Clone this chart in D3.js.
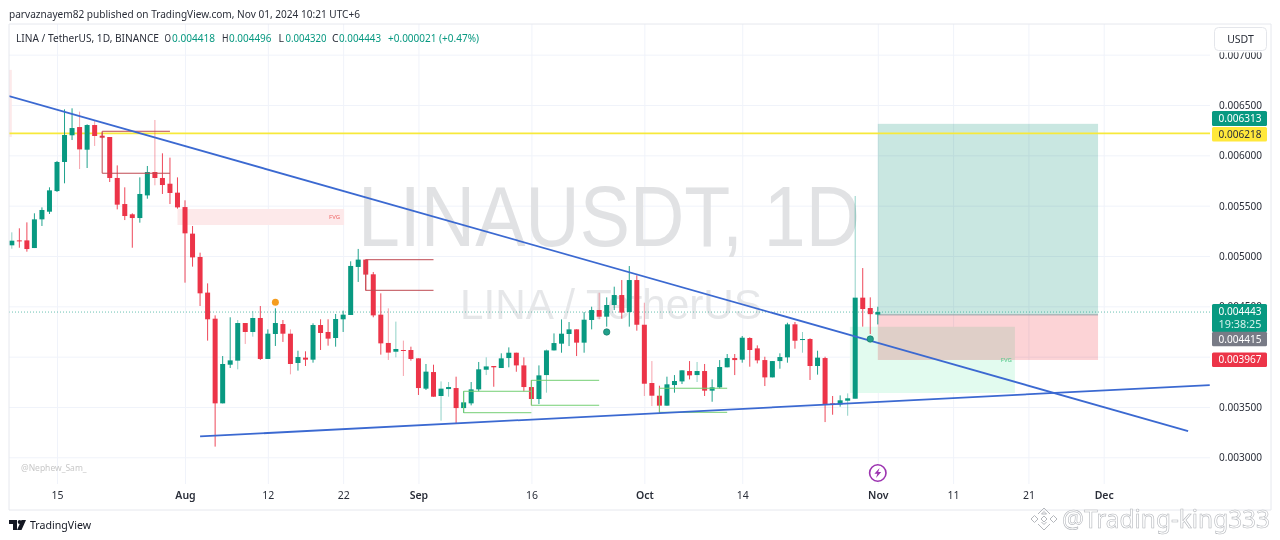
<!DOCTYPE html>
<html>
<head>
<meta charset="utf-8">
<script src="https://d3js.org/d3.v7.min.js"></script>
<style>
  html, body { margin: 0; padding: 0; background: #fff; overflow: hidden; }
  svg { display: block; filter: blur(0.3px); }
  text { font-family: "Noto Sans", sans-serif; }
</style>
</head>
<body>
<div id="graph"></div>
<script>
// daily candles, 9 Jul to 1 Nov 2024
var firstDay = "2024-07-09";
var lastDay = "2024-11-01";

var opens = [
  0.005106,0.005155,0.005155,0.005079,0.005364,0.005440,0.005645,0.005934,0.006199,0.006281,0.006056,0.006301,0.006195,0.006182,0.005775,0.005516,0.005414,0.005377,0.005602,0.005834,0.005775,0.005718,0.005629,
  0.005486,0.005222,0.004990,0.004636,0.004377,0.003536,0.003920,0.003960,0.004334,0.004245,0.004384,0.003977,0.004225,0.004324,0.004228,0.003937,0.003990,0.003970,0.004314,0.004245,0.004185,0.004371,0.004414,0.004891,0.004964,0.004818,0.004417,0.004136,0.004049,0.004066,0.004066,
  0.003983,0.003682,0.003847,0.003609,0.003678,0.003688,0.003489,0.003536,0.003675,0.003870,0.003907,0.003887,0.003986,0.004039,0.003913,0.003698,0.003579,0.003817,0.004062,0.004129,0.004225,0.004271,0.004139,0.004364,0.004463,0.004397,0.004513,0.004612,0.004443,0.004761,
  0.004317,0.003738,0.003612,0.003513,0.003718,0.003754,0.003857,0.003817,0.003857,0.003662,0.003695,0.003894,0.003986,0.003970,0.004185,0.004082,0.003966,0.003794,0.003956,0.003993,0.004321,0.004165,0.004175,0.003907,0.003986,0.003536,0.003526,0.003562,0.003582,0.004586,0.004483,
  0.004418
];
var highs = [
  0.005235,0.005275,0.005334,0.005424,0.005483,0.005682,0.005944,0.006457,0.006467,0.006434,0.006308,0.006344,0.006228,0.006182,0.005900,0.005682,0.005424,0.005781,0.005894,0.006351,0.006020,0.005977,0.005781,
  0.005553,0.005298,0.005033,0.004728,0.004410,0.004006,0.004391,0.004364,0.004334,0.004454,0.004503,0.004271,0.004480,0.004364,0.004271,0.004059,0.004053,0.004331,0.004371,0.004371,0.004424,0.004457,0.004947,0.005070,0.004964,0.004841,0.004629,0.004480,0.004348,0.004159,0.004099,
  0.003983,0.003927,0.003920,0.003754,0.003748,0.003801,0.003655,0.003748,0.003947,0.003993,0.003907,0.004033,0.004092,0.004039,0.003993,0.003768,0.003913,0.004072,0.004231,0.004370,0.004344,0.004271,0.004443,0.004496,0.004635,0.004589,0.004695,0.004761,0.004900,0.004808,
  0.004536,0.003956,0.003711,0.003801,0.003817,0.003864,0.003956,0.003947,0.003927,0.003774,0.003966,0.004026,0.004026,0.004205,0.004192,0.004112,0.003999,0.003956,0.004033,0.004337,0.004344,0.004245,0.004182,0.004059,0.003999,0.003609,0.003615,0.003635,0.005596,0.004880,0.004589,
  0.004496
];
var lows = [
  0.005072,0.005082,0.005043,0.005079,0.005298,0.005417,0.005636,0.005722,0.006152,0.005864,0.005874,0.006093,0.006169,0.005735,0.005463,0.005357,0.005082,0.005331,0.005569,0.005702,0.005616,0.005516,0.005470,
  0.004735,0.004894,0.004503,0.004159,0.003106,0.003536,0.003887,0.003874,0.004126,0.004198,0.003967,0.003977,0.004106,0.004146,0.003824,0.003861,0.003907,0.003940,0.004066,0.004109,0.004099,0.004245,0.004414,0.004742,0.004656,0.004391,0.004020,0.003967,0.003993,0.003808,0.003960,
  0.003619,0.003669,0.003602,0.003364,0.003602,0.003337,0.003443,0.003516,0.003655,0.003817,0.003701,0.003887,0.003894,0.003850,0.003655,0.003516,0.003529,0.003642,0.004062,0.004039,0.004105,0.004006,0.004039,0.004271,0.004370,0.004298,0.004463,0.004377,0.004298,0.004258,
  0.003609,0.003509,0.003443,0.003513,0.003642,0.003728,0.003774,0.003748,0.003609,0.003552,0.003682,0.003894,0.003817,0.003940,0.003900,0.003933,0.003708,0.003794,0.003880,0.003940,0.004079,0.004039,0.003768,0.003821,0.003350,0.003423,0.003503,0.003413,0.003582,0.004298,0.004225,
  0.004320
];
var closes = [
  0.005152,0.005149,0.005069,0.005364,0.005457,0.005652,0.005934,0.006202,0.006271,0.006059,0.006301,0.006192,0.006175,0.005775,0.005510,0.005397,0.005377,0.005616,0.005834,0.005775,0.005705,0.005626,0.005483,
  0.005225,0.004986,0.004629,0.004371,0.003536,0.003927,0.003963,0.004334,0.004245,0.004384,0.003977,0.004228,0.004334,0.004228,0.003927,0.003996,0.003970,0.004314,0.004235,0.004179,0.004374,0.004417,0.004901,0.004964,0.004815,0.004410,0.004132,0.004040,0.004076,0.004059,0.003977,
  0.003688,0.003851,0.003602,0.003682,0.003698,0.003489,0.003546,0.003675,0.003874,0.003903,0.003894,0.003983,0.004039,0.003913,0.003698,0.003579,0.003814,0.004062,0.004135,0.004228,0.004271,0.004139,0.004367,0.004463,0.004397,0.004513,0.004612,0.004437,0.004761,0.004317,
  0.003731,0.003612,0.003513,0.003725,0.003758,0.003864,0.003814,0.003857,0.003662,0.003695,0.003897,0.003986,0.003966,0.004188,0.004066,0.003963,0.003794,0.003956,0.003996,0.004321,0.004158,0.004175,0.003907,0.003990,0.003529,0.003526,0.003566,0.003586,0.004586,0.004473,0.004422,
  0.004443
];

// days whose wick reads much paler in the picture
var faintWicks = ["2024-07-09","2024-07-18","2024-07-20","2024-07-28","2024-08-08","2024-08-09","2024-08-10","2024-08-15","2024-08-28","2024-08-29","2024-08-30","2024-09-04","2024-09-05","2024-09-10","2024-09-18","2024-09-25","2024-10-01","2024-10-02","2024-10-08","2024-10-22","2024-10-28","2024-10-29"];

// axis ticks
var priceTicks = [0.003, 0.0035, 0.004, 0.0045, 0.005, 0.0055, 0.006, 0.0065, 0.007];
var hiddenPriceTicks = [0.004]; // sits fully behind the stop tag
var timeTickDates = ["2024-07-15","2024-08-01","2024-08-12","2024-08-22","2024-09-01","2024-09-16","2024-10-01","2024-10-14","2024-11-01","2024-11-11","2024-11-21","2024-12-01"];
var timeTickLabels = ["15","Aug","12","22","Sep","16","Oct","14","Nov","11","21","Dec"];
var monthLabels = ["Aug","Sep","Oct","Nov","Dec"];

// drawings: [from, to, price, price]
var fvgRed = ["2024-07-31T00:00", "2024-08-22T03:00", 0.005467, 0.005308];
var fvgRedEdge = ["2024-06-20", "2024-07-09T00:00", 0.006849, 0.006182];
var fvgGreen = ["2024-10-28T07:00", "2024-11-19T05:00", 0.004297, 0.003639];
var longStart = "2024-11-01";
var longEnd = "2024-11-30T06:00";
var longTarget = 0.006313;
var longEntry = 0.004415;
var longStop = 0.003967;
var lastPrice = 0.004443;
var yellowLevel = 0.006218;

var trendDown = [["2024-07-08T15:00", 0.006589], ["2024-12-12T05:00", 0.003261]];
var trendUp = [["2024-08-03", 0.003207], ["2024-12-15T02:00", 0.003718]];

// broken structure levels: [start day, end day, upper price, lower price]
var redLevels = [
  ["2024-07-21", "2024-07-30", 0.006239, 0.005822],
  ["2024-08-25", "2024-09-03", 0.004963, 0.004659]
];
var greenLevels = [
  ["2024-09-07", "2024-09-16", 0.003656, 0.003443],
  ["2024-09-16", "2024-09-25", 0.003765, 0.003517],
  ["2024-10-03", "2024-10-12", 0.003686, 0.003447]
];

// signal dots: [day, price]
var orangeDots = [["2024-08-13", 0.004540]];
var tealDots = [["2024-09-26", 0.004245], ["2024-10-31", 0.004175]];

var legendTitle = "LINA / TetherUS, 1D, BINANCE";
var legendParts = ["O", "0.004418", "H", "0.004496", "L", "0.004320", "C", "0.004443", "+0.000021 (+0.47%)"];

window.onload = start;

function start() {
    var width = 1280, height = 540;
    var left = 9, right = 1210, top = 24, bottom = 487, frameRight = 1271, frameBottom = 510;
    var upColor = "#089981", downColor = "#ec3448";

    var parseDay = function(s) { return new Date(s.length > 10 ? s + "Z" : s + "T00:00Z"); };

    var svg = d3.select("#graph").append("svg")
        .attr("width", width)
        .attr("height", height);

    svg.append("defs").append("clipPath").attr("id", "plot")
        .append("rect").attr("x", left).attr("y", top)
        .attr("width", right - left).attr("height", bottom - top);

    // scales are pinned to two known ticks on each axis
    var x = d3.scaleUtc()
        .domain([parseDay("2024-07-15"), parseDay("2024-12-01")])
        .range([57, 1103.7]);
    var y = d3.scaleLinear()
        .domain([0.003, 0.0065])
        .range([457.3, 105]);

    var days = d3.utcDay.range(parseDay(firstDay), d3.utcDay.offset(parseDay(lastDay), 1));
    var candles = days.map(function(d, i) {
        return {date: d, o: opens[i], h: highs[i], l: lows[i], c: closes[i],
                faint: faintWicks.indexOf(d.toISOString().slice(0, 10)) >= 0};
    });

    var bodyW = 5;
    var plot = svg.append("g").attr("clip-path", "url(#plot)");

    // grid
    var xGrid = d3.axisBottom(x).tickValues(timeTickDates.map(parseDay)).tickSize(484 - top).tickFormat("");
    var yGrid = d3.axisRight(y).tickValues(priceTicks).tickSize(right - left).tickFormat("");
    plot.append("g").attr("transform", "translate(0," + top + ")").call(customGrid, xGrid);
    plot.append("g").attr("transform", "translate(" + left + ",0)").call(customGrid, yGrid);

    function customGrid(g, axis) {
        g.call(axis);
        g.select(".domain").remove();
        g.selectAll(".tick line").attr("stroke", "#f0f3fa");
    }

    // watermarks
    plot.append("text").attr("x", 358).attr("y", 246)
        .attr("textLength", 502).attr("lengthAdjust", "spacingAndGlyphs")
        .style("font-family", "'Liberation Sans', sans-serif")
        .style("font-size", "86px").attr("fill", "#e1e2e4")
        .text("LINAUSDT, 1D");
    plot.append("text").attr("x", 460).attr("y", 319)
        .attr("textLength", 302).attr("lengthAdjust", "spacingAndGlyphs")
        .style("font-family", "'Liberation Sans', sans-serif")
        .style("font-size", "42px").attr("fill", "#e6e7e9")
        .text("LINA / TetherUS");
    plot.append("text").attr("x", 21).attr("y", 471)
        .style("font-size", "8.5px").attr("fill", "#c8c8c8")
        .text("@Nephew_Sam_");

    function box(from, to, p1, p2, fill) {
        return plot.append("rect")
            .attr("x", x(parseDay(from)))
            .attr("y", y(p1))
            .attr("width", x(parseDay(to)) - x(parseDay(from)))
            .attr("height", y(p2) - y(p1))
            .attr("fill", fill);
    }

    // FVG zones
    box(fvgRedEdge[0], fvgRedEdge[1], fvgRedEdge[2], fvgRedEdge[3], "#fde9ea");
    box(fvgRed[0], fvgRed[1], fvgRed[2], fvgRed[3], "#fde9ea");
    box(fvgGreen[0], fvgGreen[1], fvgGreen[2], fvgGreen[3], "#e2fbef");

    // long position
    box(longStart, longEnd, longTarget, longEntry, "#c9e7e1").style("mix-blend-mode", "multiply");
    box(longStart, longEnd, longEntry, longStop, "#fcd3d6").style("mix-blend-mode", "multiply");
    plot.append("line")
        .attr("x1", x(parseDay(longStart))).attr("x2", x(parseDay(longEnd)))
        .attr("y1", y(longEntry)).attr("y2", y(longEntry))
        .attr("stroke", "#9a9ea6").attr("stroke-width", 1);

    plot.append("text")
        .attr("x", x(parseDay(fvgRed[1])) - 4).attr("y", (y(fvgRed[2]) + y(fvgRed[3])) / 2 + 2)
        .attr("text-anchor", "end").style("font-size", "6px").attr("fill", "#ef6a6a").text("FVG");
    plot.append("text")
        .attr("x", x(parseDay(fvgGreen[1])) - 3).attr("y", y(longStop) + 2)
        .attr("text-anchor", "end").style("font-size", "6px").attr("fill", "#52c98a").text("FVG");

    // yellow level and last price
    plot.append("line").attr("x1", left).attr("x2", right)
        .attr("y1", y(yellowLevel)).attr("y2", y(yellowLevel))
        .attr("stroke", "#f7e93a").attr("stroke-width", 1.6);
    plot.append("line").attr("x1", left).attr("x2", right)
        .attr("y1", y(lastPrice)).attr("y2", y(lastPrice))
        .attr("stroke", upColor).attr("stroke-width", 1)
        .attr("stroke-dasharray", "1,2").attr("opacity", 0.6);

    // candles
    var candle = plot.selectAll(".candle").data(candles).enter().append("g").attr("class", "candle");
    candle.append("line")
        .attr("x1", function(d) { return x(d.date); })
        .attr("x2", function(d) { return x(d.date); })
        .attr("y1", function(d) { return y(d.h); })
        .attr("y2", function(d) { return y(d.l); })
        .attr("stroke", function(d) { return d.c >= d.o ? upColor : downColor; })
        .attr("stroke-opacity", function(d) { return d.faint ? 0.45 : 0.9; })
        .attr("stroke-width", 1);
    candle.append("rect")
        .attr("x", function(d) { return x(d.date) - bodyW / 2; })
        .attr("width", bodyW)
        .attr("y", function(d) { return y(Math.max(d.o, d.c)); })
        .attr("height", function(d) { return Math.max(1, Math.abs(y(d.o) - y(d.c))); })
        .attr("fill", function(d) { return d.c >= d.o ? upColor : downColor; });

    // structure levels
    function drawLevels(levels, color) {
        levels.forEach(function(l) {
            var x1 = x(parseDay(l[0])), x2 = x(parseDay(l[1]));
            var path = d3.path();
            path.moveTo(x2, y(l[2]));
            path.lineTo(x1, y(l[2]));
            path.lineTo(x1, y(l[3]));
            path.lineTo(x2, y(l[3]));
            plot.append("path").attr("d", path.toString())
                .attr("fill", "none").attr("stroke", color).attr("stroke-width", 1);
        });
    }
    drawLevels(redLevels, "#bf4a52");
    drawLevels(greenLevels, "#74cf74");

    // trend lines
    var trendLine = d3.line()
        .x(function(d) { return x(parseDay(d[0])); })
        .y(function(d) { return y(d[1]); });
    [trendDown, trendUp].forEach(function(t) {
        plot.append("path").attr("d", trendLine(t))
            .attr("fill", "none").attr("stroke", "#3b69d1").attr("stroke-width", 1.8);
    });

    // dots
    plot.selectAll(".orange").data(orangeDots).enter().append("circle")
        .attr("cx", function(d) { return x(parseDay(d[0])); })
        .attr("cy", function(d) { return y(d[1]); })
        .attr("r", 3.5).attr("fill", "#f59d1e");
    plot.selectAll(".teal").data(tealDots).enter().append("circle")
        .attr("cx", function(d) { return x(parseDay(d[0])); })
        .attr("cy", function(d) { return y(d[1]); })
        .attr("r", 3.2).attr("fill", "#22a08b").attr("stroke", "#147a69").attr("stroke-width", 0.7);

    // earnings style bolt above the time axis
    var bolt = svg.append("g").attr("transform", "translate(" + x(parseDay("2024-11-01")) + ",473)");
    bolt.append("circle").attr("r", 8.2).attr("fill", "#fff").attr("stroke", "#9c33b0").attr("stroke-width", 1.6);
    bolt.append("path").attr("d", "M1.8,-5 L-3.4,0.8 L-0.4,0.8 L-1.8,5 L3.4,-1 L0.4,-1 Z").attr("fill", "#9c33b0");

    // frame
    svg.append("path")
        .attr("d", "M" + left + "," + top + " H" + frameRight + " V" + frameBottom + " H" + left + " Z")
        .attr("fill", "none").attr("stroke", "#e6e8ee").attr("stroke-width", 1);

    // axes
    var xAxis = d3.axisBottom(x)
        .tickValues(timeTickDates.map(parseDay))
        .tickSize(0).tickPadding(0)
        .tickFormat(function(d, i) { return timeTickLabels[i]; });
    var yAxis = d3.axisRight(y)
        .tickValues(priceTicks.filter(function(p) { return hiddenPriceTicks.indexOf(p) < 0; }))
        .tickSize(0).tickPadding(9)
        .tickFormat(d3.format(".6f"));

    svg.append("g").attr("transform", "translate(0,492)").call(customAxis, xAxis)
        .selectAll(".tick text")
        .style("font-size", "10.5px")
        .style("font-weight", function(d, i) { return monthLabels.indexOf(timeTickLabels[i]) >= 0 ? 600 : 400; });
    svg.append("g").attr("transform", "translate(" + right + ",0)").call(customAxis, yAxis)
        .selectAll(".tick text")
        .attr("textLength", 43).attr("lengthAdjust", "spacingAndGlyphs");

    function customAxis(g, axis) {
        g.call(axis);
        g.select(".domain").remove();
        g.selectAll(".tick text").style("font-size", "11px").attr("fill", "#2a2e39");
    }

    // USDT button hides the top of the 0.007 tick
    svg.append("rect").attr("x", 1212).attr("y", 26).attr("width", 57).attr("height", 26.5).attr("fill", "#fff");
    svg.append("rect").attr("x", 1214.5).attr("y", 27.5).attr("width", 52).attr("height", 23).attr("rx", 4)
        .attr("fill", "#fff").attr("stroke", "#e4e6eb");
    svg.append("text").attr("x", 1240.5).attr("y", 43).attr("text-anchor", "middle")
        .style("font-size", "10.5px").attr("fill", "#2a2e39").text("USDT");

    // price tags on the right
    function priceTag(price, offset, h, fill, color, label, sub) {
        var top = y(price) + offset;
        svg.append("rect").attr("x", 1212).attr("y", top).attr("width", 55).attr("height", h)
            .attr("rx", 1.5).attr("fill", fill);
        svg.append("text").attr("x", 1218.5).attr("y", top + 11)
            .attr("textLength", 43).attr("lengthAdjust", "spacingAndGlyphs")
            .style("font-size", "11px").attr("fill", color).text(label);
        if (sub) {
            svg.append("text").attr("x", 1218.5).attr("y", top + 24)
                .attr("textLength", 43).attr("lengthAdjust", "spacingAndGlyphs")
                .style("font-size", "11px").attr("fill", "#d6f2ec").text(sub);
        }
    }
    priceTag(longTarget, -12.8, 15, upColor, "#fff", "0.006313");
    priceTag(yellowLevel, -6.4, 14.5, "#ffe83b", "#2a2e39", "0.006218");
    priceTag(lastPrice, -8, 28, upColor, "#fff", "0.004443", "19:38:25");
    priceTag(longEntry, 17, 14.5, "#787b86", "#fff", "0.004415");
    priceTag(longStop, -7.5, 14.5, "#ec3448", "#fff", "0.003967");

    // header text
    svg.append("text").attr("x", 9).attr("y", 18)
        .attr("textLength", 351).attr("lengthAdjust", "spacingAndGlyphs")
        .style("font-size", "11.2px").attr("fill", "#2a2e39")
        .text("parvaznayem82 published on TradingView.com, Nov 01, 2024 10:21 UTC+6");

    // legend pieces sit at measured spots so the OHLC columns line up
    var legendX = [164.5, 172, 222, 229, 278.5, 285.5, 332, 339, 388];
    var legendW = [6.5, 43, 6.5, 42.5, 5.5, 41, 6.5, 42, 91];
    svg.append("text").attr("x", 16).attr("y", 42)
        .attr("textLength", 143).attr("lengthAdjust", "spacingAndGlyphs")
        .style("font-size", "10.8px").attr("fill", "#2a2e39").text(legendTitle);
    legendParts.forEach(function(p, i) {
        svg.append("text").attr("x", legendX[i]).attr("y", 42)
            .attr("textLength", legendW[i]).attr("lengthAdjust", "spacingAndGlyphs")
            .style("font-size", "10.8px")
            .attr("fill", p.length === 1 ? "#2a2e39" : upColor)
            .text(p);
    });

    // TradingView mark
    svg.append("path")
        .attr("d", "M9,520 h8 v10 h-4 v-6 h-4 Z M26,520 l-4.5,10 h-4.5 l4.5,-10 Z")
        .attr("fill", "#131722");
    svg.append("circle").attr("cx", 19.6).attr("cy", 522).attr("r", 1.9).attr("fill", "#131722");
    svg.append("text").attr("x", 30).attr("y", 529)
        .attr("textLength", 61).attr("lengthAdjust", "spacingAndGlyphs")
        .style("font-size", "11.5px").attr("fill", "#131722").text("TradingView");

    // reposter stamp, outlined text
    svg.append("text").attr("x", 1062).attr("y", 528)
        .attr("textLength", 208).attr("lengthAdjust", "spacingAndGlyphs")
        .style("font-size", "25px")
        .attr("fill", "#fff").attr("stroke", "#b4b7bc").attr("stroke-width", 0.6)
        .text("@Trading-king333");
    var stamp = svg.append("g").attr("transform", "translate(1044,519)")
        .attr("fill", "none").attr("stroke", "#b4b7bc").attr("stroke-width", 1);
    stamp.append("path").attr("d", "M-6,-5 L0,-11 L6,-5 M-2.5,-5 L0,-7.5 L2.5,-5 Z");
    stamp.append("path").attr("d", "M-6,5 L0,11 L6,5 M-2.5,3 L0,5.5 L2.5,3");
    stamp.append("path").attr("d", "M-13,0 L-9.5,-3.5 L-6,0 L-9.5,3.5 Z M13,0 L9.5,-3.5 L6,0 L9.5,3.5 Z M-3,0 L0,-3 L3,0 L0,3 Z");
}
</script>
</body>
</html>
